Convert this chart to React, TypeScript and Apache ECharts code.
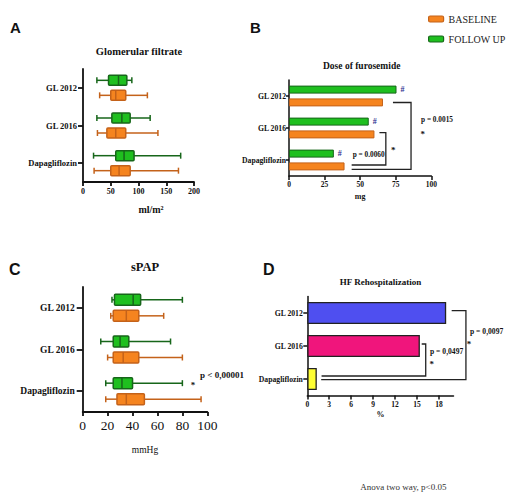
import React, { useEffect, useRef } from 'react';
import * as echarts from 'echarts';

// ---------- data ----------
const categories = ['GL 2012', 'GL 2016', 'Dapagliflozin'];

// Panel A – Glomerular filtrate (ml/m²): [min, Q1, median, Q3, max]
const gfrBaseline = [
  [30, 50, 59, 77, 116],
  [26, 43, 59, 77, 135],
  [20, 50, 65, 85, 172],
];
const gfrFollowUp = [
  [25, 46, 64, 79, 88],
  [25, 52, 70, 85, 121],
  [19, 59, 74, 92, 176],
];
const gfrTicks = [0, 50, 100, 150, 200];

// Panel B – Dose of furosemide (mg)
const furosemideBaseline = [66, 60, 39];
const furosemideFollowUp = [75.5, 56, 31.5];
const furosemideTicks = [0, 25, 50, 75, 100];
// brackets: [x start on upper bar, x start on lower bar, x of vertical, upper cat idx, lower cat idx]
const bracketsB = [
  [73, 44, 85.7, 0, 2],
  [63.5, 44, 68, 1, 2],
];
const pValuesB = ['p = 0.0015', 'p = 0.0060'];

// Panel C – sPAP (mmHg)
const spapBaseline = [
  [22.5, 24.5, 35, 45, 65],
  [20, 24.5, 32.5, 45, 80],
  [18.5, 27.5, 35, 49.5, 95],
];
const spapFollowUp = [
  [23.5, 25.5, 40.5, 46.5, 80],
  [14.5, 24.5, 30, 37, 70.5],
  [18.5, 24.5, 31.5, 40, 80],
];
const spapTicks = [0, 20, 40, 60, 80, 100];
const pValueC = 'p < 0,00001';

// Panel D – HF Rehospitalization (%)
const rehospitalization = [19, 15.4, 1.3];
const rehospTicks = [0, 3, 6, 9, 12, 15, 18];
const bracketsD = [
  [15.65, 1.95, 16.2, 1, 2],
  [19.75, 1.9, 21.7, 0, 2],
];
const pValuesD = ['p = 0,0497', 'p = 0,0097'];

const legendNames = ['BASELINE', 'FOLLOW UP'];
const footnote = 'Anova two way, p<0.05';

// ---------- styles ----------
const SERIF = '"Liberation Serif", "Times New Roman", serif';
const SANS = '"Liberation Sans", Arial, sans-serif';
const INK = '#111';
const ORANGE = '#F5841F';
const ORANGE_DARK = '#C4621A';
const GREEN = '#1FBF1F';
const GREEN_DARK = '#17661A';
const BAR_D_COLORS = ['#4F4FF0', '#F0157C', '#FFFF33'];
const HASH_BLUE = '#2D2D8F';

// pixel offsets of bracket ends from category centres
const bracketOffsetsB = [
  { top: 6.5, bottom: 9.3 },
  { top: 4.7, bottom: 5 },
];
const bracketOffsetsD = [
  { top: -2, bottom: -3 },
  { top: -2.3, bottom: 0.7 },
];

function boxRender(offset: number, boxH: number, capH: number, fill: string, stroke: string) {
  return (params: any, api: any) => {
    const cat = api.value(0);
    const pts = [1, 2, 3, 4, 5].map((i) => api.coord([api.value(i), cat]));
    const y = pts[0][1] + offset;
    const [xMin, xQ1, xMed, xQ3, xMax] = pts.map((p: number[]) => p[0]);
    const ls = { stroke, lineWidth: 1.5 };
    return {
      type: 'group',
      children: [
        { type: 'line', shape: { x1: xMin, y1: y, x2: xQ1, y2: y }, style: ls },
        { type: 'line', shape: { x1: xQ3, y1: y, x2: xMax, y2: y }, style: ls },
        { type: 'line', shape: { x1: xMin, y1: y - capH / 2, x2: xMin, y2: y + capH / 2 }, style: ls },
        { type: 'line', shape: { x1: xMax, y1: y - capH / 2, x2: xMax, y2: y + capH / 2 }, style: ls },
        {
          type: 'rect',
          shape: { x: xQ1, y: y - boxH / 2, width: xQ3 - xQ1, height: boxH, r: 1 },
          style: { fill, stroke, lineWidth: 1.5 },
        },
        { type: 'line', shape: { x1: xMed, y1: y - boxH / 2, x2: xMed, y2: y + boxH / 2 }, style: ls },
      ],
    };
  };
}

function bracketRender(offsets: { top: number; bottom: number }[]) {
  return (params: any, api: any) => {
    const off = offsets[params.dataIndex];
    const top = api.coord([api.value(0), api.value(3)]);
    const bot = api.coord([api.value(1), api.value(4)]);
    const vx = api.coord([api.value(2), api.value(3)])[0];
    const yT = top[1] + off.top;
    const yB = bot[1] + off.bottom;
    return {
      type: 'polyline',
      shape: { points: [[top[0], yT], [vx, yT], [vx, yB], [bot[0], yB]] },
      style: { stroke: '#222', lineWidth: 1.3, fill: 'none' },
    };
  };
}

function valueAxis(gridIndex: number, ticks: number[], opts: any) {
  return {
    type: 'value',
    gridIndex,
    min: ticks[0],
    max: opts.max ?? ticks[ticks.length - 1],
    interval: opts.interval,
    axisLine: { show: true, lineStyle: { color: INK, width: opts.lineW } },
    axisTick: { show: true, length: 4, lineStyle: { color: INK, width: opts.lineW }, customValues: opts.custom ? ticks : undefined },
    axisLabel: {
      margin: opts.margin,
      fontSize: opts.fontSize,
      fontWeight: opts.weight,
      fontFamily: SERIF,
      color: INK,
      customValues: opts.custom ? ticks : undefined,
    },
    splitLine: { show: false },
    name: opts.name,
    nameLocation: 'middle',
    nameGap: opts.nameGap,
    nameTextStyle: {
      fontSize: opts.nameSize,
      fontWeight: opts.nameWeight,
      fontFamily: SERIF,
      color: INK,
      padding: opts.namePad,
    },
  };
}

function catAxis(gridIndex: number, opts: any) {
  return {
    type: 'category',
    gridIndex,
    data: categories,
    inverse: true,
    axisLine: { show: true, lineStyle: { color: INK, width: opts.lineW } },
    axisTick: { show: true, alignWithLabel: true, length: opts.tick, lineStyle: { color: INK, width: opts.lineW } },
    axisLabel: { margin: opts.margin, fontSize: opts.fontSize, fontWeight: 'bold', fontFamily: SERIF, color: INK },
  };
}

function txt(text: string, x: number, y: number, size: number, weight: string, align: string, family = SERIF, fill = INK) {
  return {
    type: 'text',
    x,
    y,
    style: {
      text,
      fontSize: size,
      fontWeight: weight,
      fontFamily: family,
      fill,
      textAlign: align,
      textVerticalAlign: 'middle',
      align,
      verticalAlign: 'middle',
    },
  };
}

export default function App() {
  const ref = useRef<HTMLDivElement>(null);

  useEffect(() => {
    document.body.style.margin = '0';
    if (!ref.current) return;
    const chart = echarts.init(ref.current, undefined, { renderer: 'svg' });

    const option: any = {
      animation: false,
      backgroundColor: '#fff',
      legend: {
        left: 423,
        top: 9,
        orient: 'vertical',
        itemWidth: 15,
        itemHeight: 6,
        itemGap: 10,
        selectedMode: false,
        textStyle: { fontFamily: SERIF, fontSize: 10, color: '#222' },
        data: [
          { name: legendNames[0], icon: 'roundRect', itemStyle: { color: ORANGE, borderColor: ORANGE_DARK, borderWidth: 1.2 } },
          { name: legendNames[1], icon: 'roundRect', itemStyle: { color: GREEN, borderColor: GREEN_DARK, borderWidth: 1.2 } },
        ],
      },
      grid: [
        { left: 83, top: 69, width: 111, height: 113 },
        { left: 289, top: 80, width: 142.4, height: 96 },
        { left: 82.7, top: 287, width: 124.6, height: 125 },
        { left: 307.3, top: 296.5, width: 146.2, height: 99 },
      ],
      xAxis: [
        valueAxis(0, gfrTicks, { interval: 50, lineW: 1.8, margin: 5, fontSize: 8, weight: 'bold', name: 'ml/m²', nameGap: 22, nameSize: 10, nameWeight: 'bold', namePad: [0, 0, 0, 25] }),
        valueAxis(1, furosemideTicks, { interval: 25, lineW: 1.5, margin: 4.5, fontSize: 7.5, weight: 'bold', name: 'mg', nameGap: 16, nameSize: 8, nameWeight: 'bold', namePad: [0, 0, 0, 0] }),
        valueAxis(2, spapTicks, { interval: 20, lineW: 1.8, margin: 6, fontSize: 13.5, weight: 'normal', name: 'mmHg', nameGap: 33, nameSize: 9.5, nameWeight: 'normal', namePad: [0, 0, 0, 0] }),
        valueAxis(3, rehospTicks, { max: 20, custom: true, lineW: 1.5, margin: 5, fontSize: 7.5, weight: 'bold', name: '%', nameGap: 15, nameSize: 8, nameWeight: 'bold', namePad: [0, 0, 0, 0] }),
      ],
      yAxis: [
        catAxis(0, { lineW: 1.8, tick: 5, margin: 6, fontSize: 8.5 }),
        catAxis(1, { lineW: 1.5, tick: 3, margin: 3, fontSize: 7.7 }),
        catAxis(2, { lineW: 1.8, tick: 6, margin: 8, fontSize: 9.5 }),
        catAxis(3, { lineW: 1.5, tick: 4, margin: 4.5, fontSize: 7.7 }),
      ],
      series: [
        // Panel A
        {
          type: 'custom', name: legendNames[1], xAxisIndex: 0, yAxisIndex: 0,
          itemStyle: { color: GREEN },
          encode: { y: 0, x: [1, 2, 3, 4, 5] },
          data: gfrFollowUp.map((r, i) => [i, ...r]),
          renderItem: boxRender(-7.5, 10, 6, GREEN, GREEN_DARK),
        },
        {
          type: 'custom', name: legendNames[0], xAxisIndex: 0, yAxisIndex: 0,
          itemStyle: { color: ORANGE },
          encode: { y: 0, x: [1, 2, 3, 4, 5] },
          data: gfrBaseline.map((r, i) => [i, ...r]),
          renderItem: boxRender(7.5, 10, 6, ORANGE, ORANGE_DARK),
        },
        // Panel B
        {
          type: 'bar', name: legendNames[1], xAxisIndex: 1, yAxisIndex: 1,
          barWidth: 8, barGap: '60%',
          itemStyle: { color: GREEN, borderColor: GREEN_DARK, borderWidth: 1 },
          label: { show: true, position: 'right', formatter: '#', distance: 4, color: HASH_BLUE, fontSize: 8, fontWeight: 'bold', fontFamily: SERIF },
          data: furosemideFollowUp,
        },
        {
          type: 'bar', name: legendNames[0], xAxisIndex: 1, yAxisIndex: 1,
          barWidth: 8, barGap: '60%',
          itemStyle: { color: ORANGE, borderColor: ORANGE_DARK, borderWidth: 1 },
          data: furosemideBaseline,
        },
        {
          type: 'custom', name: 'bracketsB', xAxisIndex: 1, yAxisIndex: 1,
          encode: { x: [0, 1, 2], y: [3, 4] },
          data: bracketsB,
          renderItem: bracketRender(bracketOffsetsB),
        },
        // Panel C
        {
          type: 'custom', name: legendNames[1], xAxisIndex: 2, yAxisIndex: 2,
          itemStyle: { color: GREEN },
          encode: { y: 0, x: [1, 2, 3, 4, 5] },
          data: spapFollowUp.map((r, i) => [i, ...r]),
          renderItem: boxRender(-8, 11, 6, GREEN, GREEN_DARK),
        },
        {
          type: 'custom', name: legendNames[0], xAxisIndex: 2, yAxisIndex: 2,
          itemStyle: { color: ORANGE },
          encode: { y: 0, x: [1, 2, 3, 4, 5] },
          data: spapBaseline.map((r, i) => [i, ...r]),
          renderItem: boxRender(8, 11, 6, ORANGE, ORANGE_DARK),
        },
        // Panel D
        {
          type: 'bar', name: 'HF Rehospitalization', xAxisIndex: 3, yAxisIndex: 3,
          barWidth: 22,
          itemStyle: { borderColor: '#222', borderWidth: 1.3 },
          data: rehospitalization.map((v, i) => ({ value: v, itemStyle: { color: BAR_D_COLORS[i] } })),
        },
        {
          type: 'custom', name: 'bracketsD', xAxisIndex: 3, yAxisIndex: 3,
          encode: { x: [0, 1, 2], y: [3, 4] },
          data: bracketsD,
          renderItem: bracketRender(bracketOffsetsD),
        },
      ],
      graphic: [
        txt('A', 10, 27, 15, 'bold', 'left', SANS),
        txt('B', 250, 27, 15, 'bold', 'left', SANS),
        txt('C', 9, 269, 16, 'bold', 'left', SANS),
        txt('D', 263, 269, 16, 'bold', 'left', SANS),
        txt('Glomerular filtrate', 139, 51, 10.5, 'bold', 'center'),
        txt('Dose of furosemide', 361.7, 66, 9.5, 'bold', 'center'),
        txt('sPAP', 145, 267, 12.5, 'bold', 'center'),
        txt('HF Rehospitalization', 380.5, 282, 9, 'bold', 'center'),
        txt(pValuesB[0], 421, 119.3, 7.3, 'bold', 'left'),
        txt('*', 422.7, 134, 9, 'bold', 'center'),
        txt(pValuesB[1], 352.7, 154, 7.3, 'bold', 'left'),
        txt('*', 393.3, 150, 9, 'bold', 'center'),
        txt(pValueC, 200, 375, 9, 'bold', 'left'),
        txt('*', 193, 385, 9, 'bold', 'center'),
        txt(pValuesD[0], 430, 351.7, 7.6, 'bold', 'left'),
        txt('*', 431.7, 364, 9, 'bold', 'center'),
        txt(pValuesD[1], 470, 331.7, 7.6, 'bold', 'left'),
        txt('*', 469, 343.5, 9, 'bold', 'center'),
        txt(footnote, 403.3, 487, 9, 'normal', 'center', SERIF, '#333'),
      ],
    };

    chart.setOption(option);
    return () => chart.dispose();
  }, []);

  return <div ref={ref} style={{ width: 513, height: 500 }} />;
}
